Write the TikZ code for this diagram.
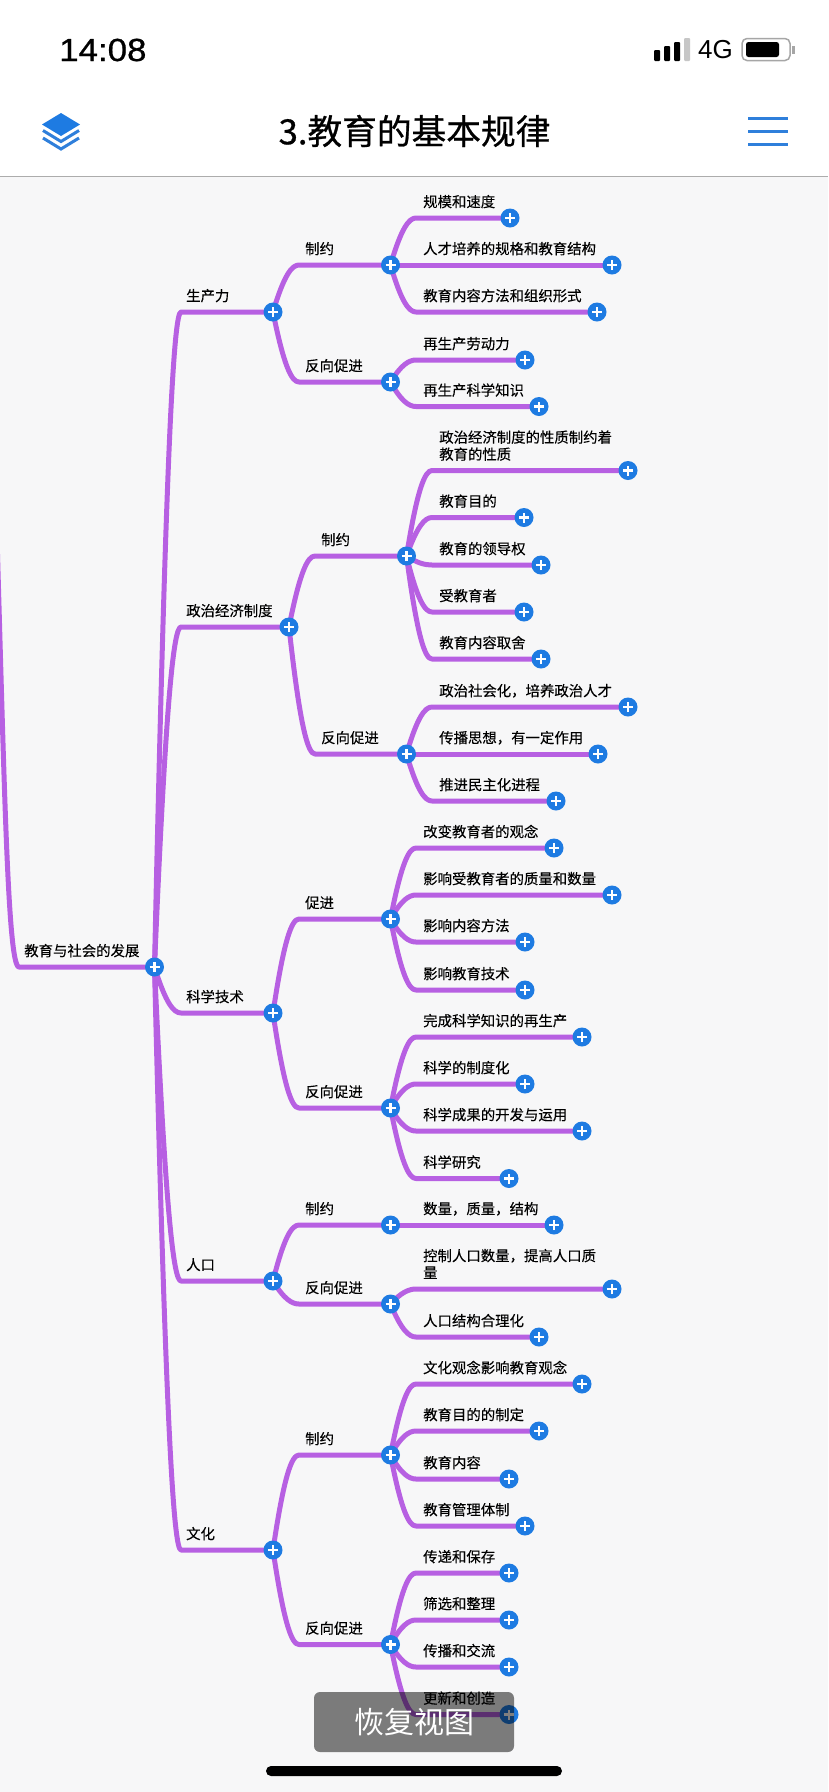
\documentclass[tikz,border=0pt]{standalone}
\usepackage{fontspec}
\setmainfont{Noto Sans CJK SC}
\newfontfamily\latinui{Liberation Sans}
\newfontfamily\clockfont[FakeBold=0.7]{Liberation Sans}
\newfontfamily\titlefont[FakeBold=0.7]{Noto Sans CJK SC}
\newfontfamily\lblfont[FakeBold=0.2]{Noto Sans CJK SC}
\usetikzlibrary{calc,backgrounds}
\definecolor{pagebg}{HTML}{F7F7F8}
\definecolor{linkc}{HTML}{B760E2}
\definecolor{hubc}{HTML}{1E7BE2}
\definecolor{navblue}{HTML}{2F7FDB}
\tikzset{
  x=1pt,y=-1pt,
  link/.style={draw=linkc,line width=5pt,line cap=round,line join=round},
  hub/.style={circle,fill=hubc,minimum size=19pt,inner sep=0pt,
    path picture={\draw[white,line width=2.8pt]
      ([xshift=-5pt]path picture bounding box.center) -- ([xshift=5pt]path picture bounding box.center)
      ([yshift=-5pt]path picture bounding box.center) -- ([yshift=5pt]path picture bounding box.center);}},
  lbl/.style={anchor=south west,inner sep=0pt,align=left,text=black,font=\lblfont\fontsize{14.4}{17}\selectfont},
  bar/.style={fill=black,rounded corners=1pt,draw=none},
}
\newcommand\branch[6]{%
  \node[hub] (#2) at (#3,#4) {};
  \coordinate (#2k) at (#5,#4);
  \node[lbl] (#2t) at ({#5+7-(#5<200?2:(#5<350?1:0))},{#4-5.6}) {#6\strut};
  \begin{pgfonlayer}{background}
  \draw[link] let \p1=(#1),\p2=(#2k) in (#1.center)
    .. controls ({\x1+.42*(\x2-\x1)},{\y1+.78*(\y2-\y1)}) and ({\x2-.28*(\x2-\x1)},{\y2}) .. (#2k) -- (#2.center);
  \end{pgfonlayer}
}
\begin{document}
\begin{tikzpicture}
\useasboundingbox (0,0) rectangle (828,1792);
\clip (0,0) rectangle (828,1792);
\begin{pgfonlayer}{background}
\fill[pagebg] (0,0) rectangle (828,1792);
\fill[white] (0,0) rectangle (828,176);
\draw[gray!65,line width=1pt] (0,176.5) -- (828,176.5);
\end{pgfonlayer}
% status bar
\node[anchor=west,inner sep=0pt,xscale=1.09,font=\clockfont\fontsize{32}{32}\selectfont] (clock) at (59,50) {14:08};
\fill[bar] (654,50) rectangle (660,61);
\fill[bar] (664,46) rectangle (670,61);
\fill[bar] (674,42) rectangle (680,61);
\fill[gray!45,rounded corners=1pt] (684,38) rectangle (690,61);
\node[anchor=west,inner sep=0pt,font=\latinui\fontsize{26}{25}\selectfont] (net) at (698,50) {4G};
\draw[gray!70,line width=1.5pt,rounded corners=5pt] (742,38.5) rectangle (790,60.5);
\fill[black,rounded corners=2.5pt] (746,42) rectangle (779,57);
\fill[gray!70] (792,46) rectangle (794.5,54);
% nav bar
\fill[hubc] (61,113) -- (80,124.5) -- (61,136) -- (42,124.5) -- cycle;
\draw[navblue,line width=3pt] (43,130.5) -- (61,141.5) -- (79,130.5);
\draw[navblue,line width=3pt] (43,138) -- (61,149) -- (79,138);
\node[inner sep=0pt,font=\titlefont\fontsize{34.7}{34}\selectfont] (title) at (414.5,131) {3.教育的基本规律};
\draw[navblue,line width=3pt] (748,118) -- (788,118) (748,131) -- (788,131) (748,144) -- (788,144);
\begin{scope}[shift={(1,1)}]
% root
\node[hub] (root) at (153.5,966) {};
\coordinate (rootk) at (18,966);
\coordinate (rootin) at (-6,470);
\node[lbl] (roott) at (23,960.4) {教育与社会的发展\strut};
\begin{pgfonlayer}{background}
\draw[link] (rootin) .. controls (3,760) and (6,966) .. (rootk) -- (root.center);
\end{pgfonlayer}
% 生产力
\branch{root}{a}{272}{311}{180}{生产力}
\branch{a}{aa}{389.5}{264}{298}{制约}
\branch{aa}{aaa}{509}{217}{415}{规模和速度}
\branch{aa}{aab}{611}{264}{415}{人才培养的规格和教育结构}
\branch{aa}{aac}{596}{311}{415}{教育内容方法和组织形式}
\branch{a}{ab}{389.5}{381}{298}{反向促进}
\branch{ab}{aba}{524}{359}{415}{再生产劳动力}
\branch{ab}{abb}{538}{405.5}{415}{再生产科学知识}
% 政治经济制度
\branch{root}{b}{288}{626}{180}{政治经济制度}
\branch{b}{ba}{405.5}{555}{314}{制约}
\branch{ba}{baa}{627}{469.5}{431}{政治经济制度的性质制约着\\教育的性质}
\branch{ba}{bab}{523}{516.5}{431}{教育目的}
\branch{ba}{bac}{540}{564}{431}{教育的领导权}
\branch{ba}{bad}{523}{611}{431}{受教育者}
\branch{ba}{bae}{540}{658}{431}{教育内容取舍}
\branch{b}{bb}{405.5}{753}{314}{反向促进}
\branch{bb}{bba}{627}{706}{431}{政治社会化，培养政治人才}
\branch{bb}{bbb}{597}{753}{431}{传播思想，有一定作用}
\branch{bb}{bbc}{555}{800}{431}{推进民主化进程}
% 科学技术
\branch{root}{c}{272}{1012}{180}{科学技术}
\branch{c}{ca}{389.5}{918}{298}{促进}
\branch{ca}{caa}{553}{847}{415}{改变教育者的观念}
\branch{ca}{cab}{611}{894}{415}{影响受教育者的质量和数量}
\branch{ca}{cac}{524}{941}{415}{影响内容方法}
\branch{ca}{cad}{524}{989}{415}{影响教育技术}
\branch{c}{cb}{389.5}{1107}{298}{反向促进}
\branch{cb}{cba}{581}{1036}{415}{完成科学知识的再生产}
\branch{cb}{cbb}{524}{1083}{415}{科学的制度化}
\branch{cb}{cbc}{581}{1130}{415}{科学成果的开发与运用}
\branch{cb}{cbd}{508}{1177.5}{415}{科学研究}
% 人口
\branch{root}{d}{272}{1280}{180}{人口}
\branch{d}{da}{389.5}{1224}{298}{制约}
\branch{da}{daa}{553}{1224}{415}{数量，质量，结构}
\branch{d}{db}{389.5}{1303}{298}{反向促进}
\branch{db}{dba}{611}{1288}{415}{控制人口数量，提高人口质\\量}
\branch{db}{dbb}{538}{1336}{415}{人口结构合理化}
% 文化
\branch{root}{e}{272}{1549}{180}{文化}
\branch{e}{ea}{389.5}{1454}{298}{制约}
\branch{ea}{eaa}{581}{1383}{415}{文化观念影响教育观念}
\branch{ea}{eab}{538}{1430}{415}{教育目的的制定}
\branch{ea}{eac}{508}{1478}{415}{教育内容}
\branch{ea}{ead}{524}{1525}{415}{教育管理体制}
\branch{e}{eb}{389.5}{1643.5}{298}{反向促进}
\branch{eb}{eba}{508}{1572}{415}{传递和保存}
\branch{eb}{ebb}{508}{1619}{415}{筛选和整理}
\branch{eb}{ebc}{508}{1666}{415}{传播和交流}
\branch{eb}{ebd}{508}{1713.5}{415}{更新和创造}
\end{scope}
% toast
\fill[black,opacity=.5,rounded corners=6pt] (314,1692) rectangle (514,1752);
\node[inner sep=0pt,text=white,font=\fontsize{30}{30}\selectfont] (toast) at (414,1722) {恢复视图};
% home bar
\fill[black,rounded corners=5pt] (266,1766) rectangle (562,1776);
\end{tikzpicture}
\end{document}
